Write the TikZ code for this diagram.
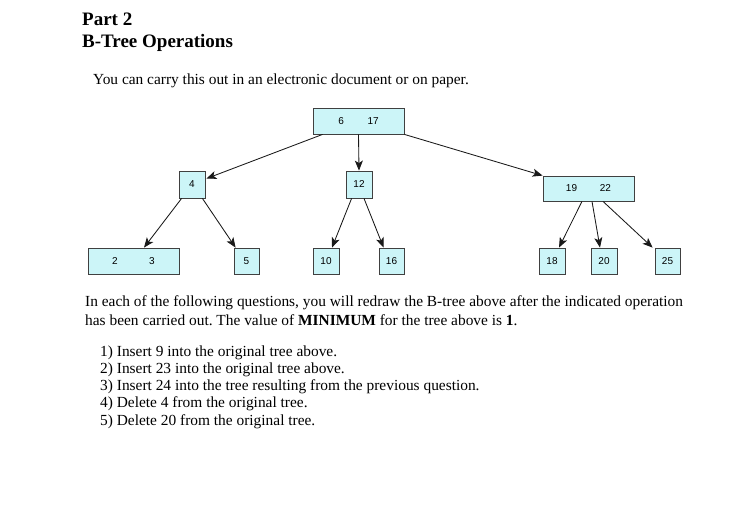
\documentclass[tikz,border=0pt]{standalone}
\usepackage{fontspec}
\setmainfont{Liberation Serif}
\newfontfamily\arialf{Liberation Sans}
\usetikzlibrary{arrows.meta,calc}
\definecolor{boxfill}{HTML}{CCF5F8}
\definecolor{boxline}{HTML}{404040}
\frenchspacing
\tikzset{
  bnode/.style={draw=boxline, fill=boxfill, line width=0.8pt, inner sep=0pt, font=\arialf\fontsize{10}{12}\selectfont},
  arr/.style={draw=black!90, line width=0.85pt, -{Stealth[length=10pt,width=8pt,inset=2.5pt]}},
  txt/.style={anchor=base west, inner sep=0pt, font=\fontsize{15.4}{18}\selectfont},
  head/.style={anchor=base west, inner sep=0pt, font=\bfseries\fontsize{19}{22}\selectfont}
}
\begin{document}
\begin{tikzpicture}[x=1pt,y=-1pt]
\useasboundingbox (0,0) rectangle (729,516);
% headings and text
\node[head] (h1) at (82,26) {Part 2};
\node[head] (h2) at (82,48) {B-Tree Operations};
\node[txt] (t1) at (93,85) {You can carry this out in an electronic document or on paper.};
\node[txt] (t2) at (85,306.5) {In each of the following questions, you will redraw the B-tree above after the indicated operation};
\node[txt] (t3) at (85,325) {has been carried out. The value of \textbf{MINIMUM} for the tree above is \textbf{1}.};
\node[txt] (q1) at (100,356) {1) Insert 9 into the original tree above.};
\node[txt] (q2) at (100,373) {2) Insert 23 into the original tree above.};
\node[txt] (q3) at (100,390) {3) Insert 24 into the tree resulting from the previous question.};
\node[txt] (q4) at (100,407.5) {4) Delete 4 from the original tree.};
\node[txt] (q5) at (100,425) {5) Delete 20 from the original tree.};
% tree nodes
\node[bnode, minimum width=91pt, minimum height=26pt] (root) at (358.5,121) {6\hspace{23.7pt}17};
\node[bnode, minimum width=26pt, minimum height=27pt] (n4) at (192,184.5) {4};
\node[bnode, minimum width=26pt, minimum height=27pt] (n12) at (359,184.5) {12};
\node[bnode, minimum width=91pt, minimum height=25pt] (n1922) at (588.5,188.5) {19\hspace{22.8pt}22};
\node[bnode, minimum width=91pt, minimum height=26pt] (n23) at (133.5,261) {2\hspace{31.4pt}3};
\node[bnode, minimum width=25pt, minimum height=26pt] (n5) at (246.5,261) {5};
\node[bnode, minimum width=26pt, minimum height=26pt] (n10) at (326,261) {10};
\node[bnode, minimum width=25pt, minimum height=26pt] (n16) at (391.5,261) {16};
\node[bnode, minimum width=26pt, minimum height=26pt] (n18) at (552,261) {18};
\node[bnode, minimum width=26pt, minimum height=26pt] (n20) at (604,261) {20};
\node[bnode, minimum width=25pt, minimum height=26pt] (n25) at (667.5,261) {25};
% connectors
\draw[arr] ($(root.south west)+(10,0)$) -- ($(n4.north east)+(1,8)$);
\draw[arr] (root.south) -- (n12.north);
\draw[arr] (root.south east) -- (n1922.north west);
\draw[arr] ($(n4.south west)+(3,0)$) -- ($(n23.north)+(10.5,0)$);
\draw[arr] ($(n4.south east)+(-3,0)$) -- ($(n5.north west)+(2,0)$);
\draw[arr] ($(n12.south west)+(6,0)$) -- ($(n10.north)+(6,0)$);
\draw[arr] ($(n12.south)+(5,0)$) -- ($(n16.north west)+(5,0)$);
\draw[arr] ($(n1922.south)+(-6.5,0)$) -- ($(n18.north)+(7,0)$);
\draw[arr] ($(n1922.south)+(3.5,0)$) -- ($(n20.north)+(-4,0)$);
\draw[arr] ($(n1922.south)+(14.5,0)$) -- ($(n25.north west)+(-2,0)$);
\end{tikzpicture}
\end{document}
